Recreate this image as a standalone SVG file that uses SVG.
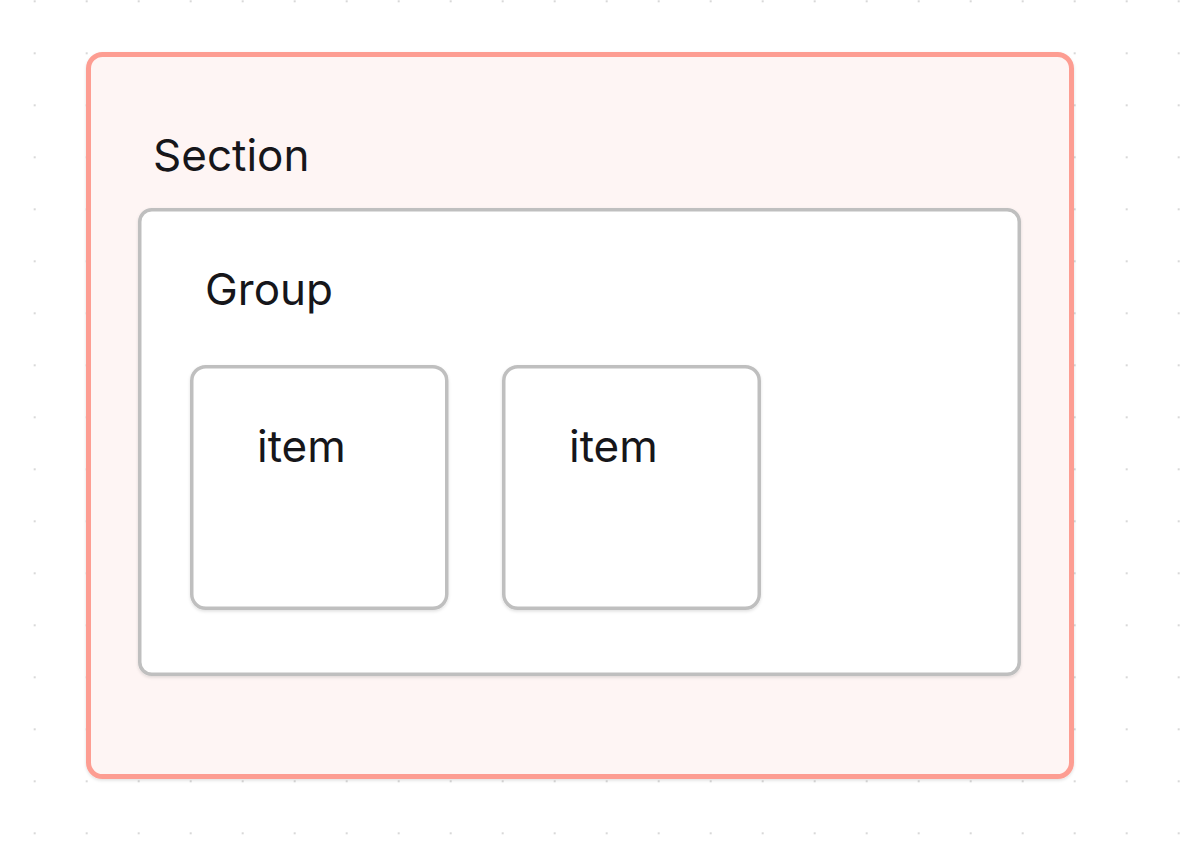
<svg xmlns="http://www.w3.org/2000/svg" width="1200" height="848" viewBox="0 0 1200 848">
  <defs>
    <pattern id="dots" patternUnits="userSpaceOnUse" x="8.7" y="-24.7" width="52" height="52">
      <circle cx="26" cy="26" r="1.1" fill="#cfcfcf"/>
    </pattern>
    <filter id="shadow" x="-5%" y="-5%" width="110%" height="110%">
      <feDropShadow dx="0" dy="1.5" stdDeviation="1.5" flood-color="#000" flood-opacity="0.12"/>
    </filter>
    <style>
      .label { font-family: Inter, "Noto Sans", "Liberation Sans", sans-serif; fill: #16161a; }
      .section { fill: #fef5f4; stroke: #fd9d92; stroke-width: 5; }
      .box { fill: #ffffff; stroke: #bfbfbf; stroke-width: 3.5; }
    </style>
  </defs>
  <rect x="0" y="0" width="1200" height="848" fill="#ffffff"/>
  <rect x="0" y="0" width="1200" height="848" fill="url(#dots)"/>

  <g id="section">
    <rect class="section" x="88.5" y="54.5" width="983" height="722" rx="14" filter="url(#shadow)"/>
    <text class="label" x="153" y="171" font-size="44">Section</text>
  </g>

  <g id="group">
    <rect class="box" x="139.75" y="209.75" width="879.5" height="464.5" rx="12" filter="url(#shadow)"/>
    <text class="label" x="205" y="305" font-size="44">Group</text>
  </g>

  <g id="item1">
    <rect class="box" x="191.75" y="366.75" width="255" height="241.5" rx="14" filter="url(#shadow)"/>
    <text class="label" x="257" y="462" font-size="44">item</text>
  </g>

  <g id="item2">
    <rect class="box" x="503.75" y="366.75" width="255.5" height="241.5" rx="14" filter="url(#shadow)"/>
    <text class="label" x="569" y="462" font-size="44">item</text>
  </g>

  <g id="connectors"></g>
</svg>
